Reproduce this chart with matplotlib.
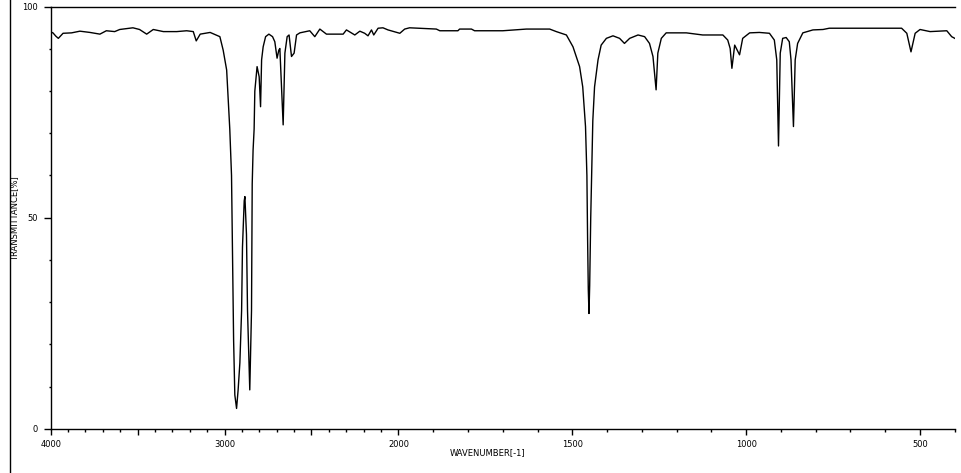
# coding: utf-8
#	IR spectrum, SDBS style (split wavenumber scale at 2000)
#--------------------------------

import numpy as np
import matplotlib
matplotlib.use("Agg")
import matplotlib.pyplot as plt
from matplotlib.ticker import FixedLocator, MultipleLocator
from matplotlib.lines import Line2D


# --- Data
wavenumber = [
	4000, 3987, 3970, 3956, 3945, 3929, 3880, 3832, 3774, 3717, 3680, 3632, 3603, 3527,
	3489, 3448, 3410, 3352, 3275, 3218, 3180, 3163, 3140, 3112, 3083, 3055, 3027, 3008,
	2988, 2970, 2960, 2954, 2948, 2941, 2931, 2922, 2912, 2902, 2897, 2887, 2883, 2874,
	2868, 2855, 2845, 2841, 2836, 2830, 2826, 2813, 2801, 2793, 2787, 2778, 2764, 2745,
	2724, 2711, 2698, 2688, 2682, 2663, 2653, 2640, 2629, 2615, 2600, 2586, 2567, 2510,
	2481, 2452, 2414, 2318, 2299, 2251, 2222, 2194, 2175, 2155, 2142, 2117, 2089, 2060,
	2016, 1996, 1982, 1968, 1891, 1881, 1829, 1824, 1790, 1781, 1700, 1632, 1565, 1546,
	1517, 1498, 1479, 1470, 1462, 1458, 1456, 1454, 1452, 1450, 1447, 1444, 1441, 1436,
	1426, 1417, 1402, 1383, 1364, 1350, 1335, 1311, 1292, 1278, 1268, 1259, 1254, 1244,
	1230, 1172, 1125, 1067, 1053, 1046, 1041, 1033, 1019, 1010, 990, 962, 933, 919,
	912, 907, 902, 895, 885, 876, 871, 864, 859, 852, 837, 808, 779, 761,
	553, 538, 526, 514, 500, 471, 423, 409, 400,
]
transmittance = [
	94.0, 93.8, 93.0, 92.5, 93.0, 93.7, 93.8, 94.2, 93.9, 93.5, 94.3, 94.1, 94.6, 95.0,
	94.6, 93.5, 94.6, 94.1, 94.1, 94.3, 94.1, 91.9, 93.5, 93.7, 93.9, 93.4, 92.9, 89.7,
	85.0, 71.0, 60.0, 41.0, 21.0, 8.0, 4.8, 9.2, 15.6, 28.0, 43.0, 54.0, 55.0, 46.0,
	28.0, 9.2, 28.0, 58.0, 66.0, 71.0, 80.0, 85.8, 83.4, 76.3, 87.4, 90.5, 92.9, 93.5,
	92.9, 91.7, 87.8, 89.7, 90.1, 72.0, 89.0, 92.9, 93.3, 88.2, 89.0, 93.3, 93.8, 94.3,
	92.9, 94.7, 93.5, 93.5, 94.5, 93.3, 94.2, 93.7, 93.1, 94.5, 93.3, 94.9, 95.0, 94.5,
	94.0, 93.7, 94.7, 95.0, 94.7, 94.3, 94.3, 94.7, 94.7, 94.3, 94.3, 94.7, 94.7, 94.1,
	93.3, 90.5, 85.8, 81.0, 71.6, 60.0, 45.0, 33.0, 27.3, 34.0, 50.0, 62.0, 73.0, 81.0,
	87.4, 90.9, 92.5, 93.1, 92.5, 91.3, 92.5, 93.3, 92.9, 91.3, 88.2, 80.3, 89.0, 92.5,
	93.8, 93.8, 93.3, 93.3, 92.1, 90.1, 85.4, 90.9, 88.6, 92.5, 93.8, 93.9, 93.7, 92.1,
	87.4, 67.0, 89.0, 92.5, 92.7, 91.7, 87.4, 71.6, 87.4, 91.3, 93.8, 94.5, 94.6, 94.9,
	94.9, 93.7, 89.3, 93.7, 94.6, 94.1, 94.3, 92.9, 92.5,
]

x_major = [4000, 3500, 3000, 2500, 2000, 1500, 1000, 500]
x_labels = ["4000", "", "3000", "", "2000", "1500", "1000", "500"]
y_major = [0, 50, 100]


# --- Split scale: below 2000 cm-1 twice as wide
def _fwd(w):
	w = np.asarray(w, dtype=float)
	return np.where(w >= 2000, w, 2 * w - 2000)

def _inv(u):
	u = np.asarray(u, dtype=float)
	return np.where(u >= 2000, u, (u + 2000) / 2)


fig = plt.figure(figsize=(9.61, 4.73), dpi=100)
ax = fig.add_axes([50.7 / 961, 44.3 / 473, 904.1 / 961, 422.0 / 473])

ax.plot(wavenumber, transmittance, color="black", lw=1.0)

ax.set_xscale("function", functions=(_fwd, _inv))
ax.set_xlim(4000, 400)
ax.set_ylim(0, 100)

ax.xaxis.set_major_locator(FixedLocator(x_major))
ax.set_xticklabels(x_labels)
ax.xaxis.set_minor_locator(FixedLocator([w for w in range(400, 4000, 100) if w not in x_major]))
ax.yaxis.set_major_locator(FixedLocator(y_major))
ax.yaxis.set_minor_locator(MultipleLocator(10))

ax.tick_params(axis="x", which="major", direction="out", length=4.3, width=1, pad=4, labelsize=6)
ax.tick_params(axis="x", which="minor", direction="out", length=2.2, width=1)
ax.tick_params(axis="y", which="major", direction="out", length=5, width=1, pad=4, labelsize=6)
ax.tick_params(axis="y", which="minor", direction="out", length=1.8, width=1)

ax.spines["right"].set_visible(False)
for s in ("left", "bottom", "top"):
	ax.spines[s].set_linewidth(1)

fig.text(488 / 961, 1 - 453 / 473, "WAVENUMBER[-1]", ha="center", va="center", fontsize=6)
fig.text(15 / 961, 1 - 219 / 473, "TRANSMITTANCE[%]", ha="center", va="center",
	fontsize=6, rotation=90)
fig.add_artist(Line2D([10 / 961, 10 / 961], [0, 1], color="black", lw=1.0))

fig.savefig("out.png", dpi=100)
